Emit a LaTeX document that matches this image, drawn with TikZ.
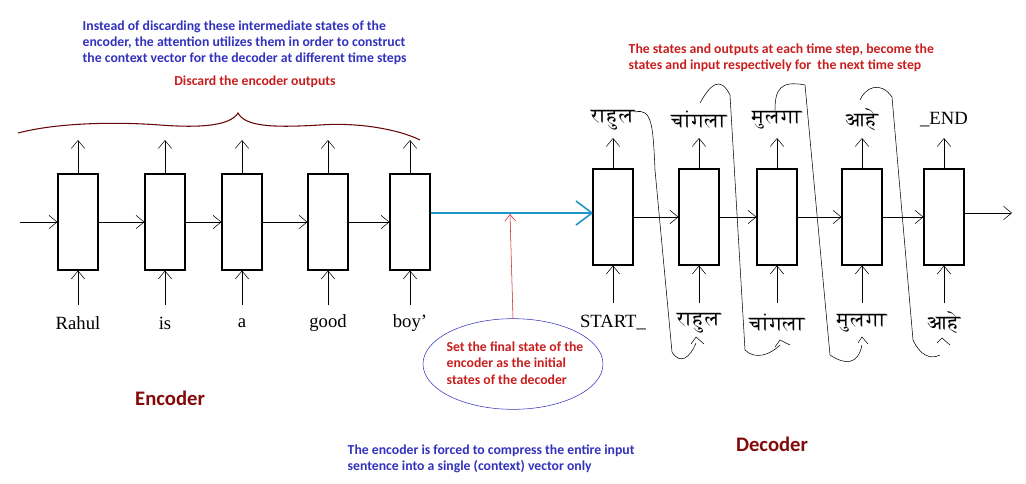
\documentclass[tikz,border=0pt]{standalone}
\usepackage{fontspec}
\setmainfont{Liberation Serif}
\newfontfamily\calfont{Carlito}
\newfontfamily\devfont[Script=Devanagari]{FreeSerif}
\usetikzlibrary{arrows.meta,shapes.geometric}
\definecolor{nb}{RGB}{50,50,190}
\definecolor{nr}{RGB}{200,30,30}
\definecolor{dr}{RGB}{130,10,10}
\definecolor{cy}{RGB}{30,150,200}
\begin{document}
\begin{tikzpicture}[x=0.75pt,y=-0.75pt,
 box/.style={draw,thick,minimum width=30pt,minimum height=72pt,inner sep=0},
 ar/.style={-{Straight Barb[length=6pt,width=10pt]}},
 lab/.style={font=\fontsize{14}{14}\selectfont},
 dl/.style={font=\devfont\fontsize{15}{15}\selectfont},
 note/.style={font=\calfont\bfseries\fontsize{10.3}{12.2}\selectfont,align=left}]
\useasboundingbox (0,0) rectangle (1026,483);
% encoder
\foreach \n/\x/\w in {1/78/Rahul,2/165/is,3/242/a,4/328/good,5/410/boy'}{
 \node[box] (e\n) at (\x,222) {};
 \node[lab] (ei\n) at (\x,323) {\w};
 \coordinate (ein\n) at (\x,305);
 \coordinate (eo\n) at (\x,140);
 \draw[ar] (ein\n) -- (e\n.south);
 \draw[ar] (e\n.north) -- (eo\n);
}
\coordinate (s0) at (20,222);
\draw[ar] (s0) -- (e1.west);
\foreach \a/\b in {1/2,2/3,3/4,4/5}{\draw[ar] (e\a.east) -- (e\b.west);}
% decoder
\foreach \n/\x in {1/613,2/699,3/777,4/862,5/944}{
 \node[box] (d\n) at (\x,217) {};
 \coordinate (dn\n) at (\x,303);
 \coordinate (do\n) at (\x,138);
 \draw[ar] (dn\n) -- (d\n.south);
 \draw[ar] (d\n.north) -- (do\n);
}
\node[lab] (di1) at (613,323) {START\_};
\node[dl] (di2) at (699,323) {राहुल};
\node[dl] (di3) at (777,323) {चांगला};
\node[dl] (di4) at (862,323) {मुलगा};
\node[dl] (di5) at (944,323) {आहे};
\node[dl] (do1l) at (613,120) {राहुल};
\node[dl] (do2l) at (699,120) {चांगला};
\node[dl] (do3l) at (777,120) {मुलगा};
\node[dl] (do4l) at (862,120) {आहे};
\node[lab] (do5l) at (944,120) {\_END};
\foreach \a/\b in {1/2,2/3,3/4,4/5}{\draw[ar] (d\a.east) -- (d\b.west);}
\coordinate (fin) at (1012,213);
\draw[ar] (d5.east|-fin) -- (fin);
% loops
\draw (635,112) .. controls (652,108) and (653,125) .. (655,170) -- (672,352) .. controls (680,365) and (690,358) .. (696,343);
\draw (691,344) -- (696,337) -- (704,344);
\draw (700,103) .. controls (710,85) and (720,75) .. (730,95) -- (745,350) .. controls (755,360) and (770,355) .. (780,345);
\draw (775,347) -- (780,340) -- (790,345);
\draw (775,110) .. controls (775,90) and (780,80) .. (805,85) -- (830,355) .. controls (845,365) and (858,365) .. (862,345);
\draw (858,343) -- (862,337) -- (868,344);
\draw (860,100) .. controls (865,88) and (880,80) .. (892,97) -- (913,340) .. controls (920,355) and (930,360) .. (940,355);
\draw (937,343) -- (942,338) -- (950,345);
% blue connection
\coordinate (bs) at (431,213);
\coordinate (be) at (592,213);
\draw[cy,very thick] (bs) -- (be) (be) -- ++(-16,-12) (be) -- ++(-16,12);
% red
\node[draw=nb,ellipse,minimum width=135pt,minimum height=68pt] (el) at (513,364) {};
\draw[nr,-{Straight Barb[length=5pt,width=8pt]}] (el.north) -- (510,214);
\node[note,text=nr] (t1) at (515,363) {Set the final state of the\\encoder as the initial\\states of the decoder};
% brace curve
\draw[dr!80!black,thick] (18,133) .. controls (60,122) and (120,122) .. (160,125) .. controls (200,128) and (230,126) .. (238,113) .. controls (245,126) and (270,128) .. (320,125) .. controls (360,122) and (400,130) .. (420,140);
% texts
\node[note,text=nb,anchor=north west] (t2) at (78,16) {Instead of discarding these intermediate states of the\\encoder, the attention utilizes them in order to construct\\the context vector for the decoder at different time steps};
\node[note,text=nr] (t3) at (255,82) {Discard the encoder outputs};
\node[note,text=nr,anchor=north west] (t4) at (624,39) {The states and outputs at each time step, become the\\states and input respectively for\ \ the next time step};
\node[note,text=nb,anchor=north west] (t5) at (343,440) {The encoder is forced to compress the entire input\\sentence into a single (context) vector only};
\node[font=\calfont\bfseries\fontsize{15.5}{15}\selectfont,text=dr] (enc) at (170,398) {Encoder};
\node[font=\calfont\bfseries\fontsize{15.5}{15}\selectfont,text=dr] (dec) at (772,444) {Decoder};
\end{tikzpicture}
\end{document}
